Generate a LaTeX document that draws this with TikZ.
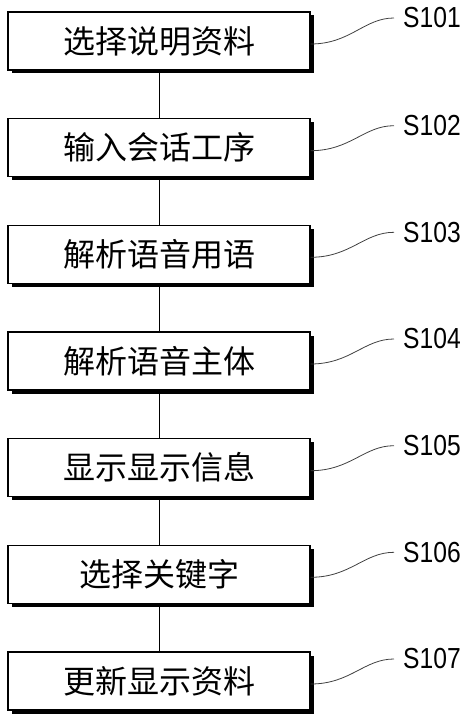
\documentclass[tikz,border=0pt]{standalone}
\usepackage{fontspec}
\setmainfont{Liberation Sans}
\newfontfamily\cjk{Noto Sans CJK SC}
\newfontfamily\labelfont[FakeStretch=0.85]{Liberation Sans}
\usetikzlibrary{shadows}
\tikzset{
  stepbox/.style={draw, line width=1.2pt, fill=white, minimum width=302pt, minimum height=58pt, inner sep=0pt,
    font=\cjk\fontsize{32}{32}\selectfont,
    drop shadow={shadow xshift=3.5pt, shadow yshift=-3.5pt, fill=black, opacity=1}},
  steplabel/.style={font=\labelfont\fontsize{29}{29}\selectfont, anchor=west, inner sep=0pt},
  leader/.style={line width=0.8pt, black!75},
  link/.style={line width=0.8pt}
}
\begin{document}
\begin{tikzpicture}[x=1pt,y=1pt]
                    \useasboundingbox (0,0) rectangle (474,-719);

                    % Drawing step boxes
                    \node [stepbox] (s101) at (159,-41.0) {选择说明资料};
                    \node [stepbox] (s102) at (159,-147.7) {输入会话工序};
                    \node [stepbox] (s103) at (159,-254.3) {解析语音用语};
                    \node [stepbox] (s104) at (159,-361.0) {解析语音主体};
                    \node [stepbox] (s105) at (159,-467.7) {显示显示信息};
                    \node [stepbox] (s106) at (159,-574.3) {选择关键字};
                    \node [stepbox] (s107) at (159,-681.0) {更新显示资料};

                    % Drawing links between boxes
                    \draw [link] (s101.south) -- (s102.north);
                    \draw [link] (s102.south) -- (s103.north);
                    \draw [link] (s103.south) -- (s104.north);
                    \draw [link] (s104.south) -- (s105.north);
                    \draw [link] (s105.south) -- (s106.north);
                    \draw [link] (s106.south) -- (s107.north);

                    % Marking step labels
                    \node [steplabel] (l101) at (403,-18.0) {S101};
                    \node [steplabel] (l102) at (403,-125.7) {S102};
                    \node [steplabel] (l103) at (403,-232.3) {S103};
                    \node [steplabel] (l104) at (403,-339.0) {S104};
                    \node [steplabel] (l105) at (403,-445.7) {S105};
                    \node [steplabel] (l106) at (403,-552.3) {S106};
                    \node [steplabel] (l107) at (403,-659.0) {S107};

                    % Drawing leaders from boxes to labels
                    \draw [leader] ([yshift=-3pt]s101.east) .. controls +(40,0) and +(-30,0) .. ([xshift=-9pt]l101.west);
                    \draw [leader] ([yshift=-3pt]s102.east) .. controls +(40,0) and +(-30,0) .. ([xshift=-9pt]l102.west);
                    \draw [leader] ([yshift=-3pt]s103.east) .. controls +(40,0) and +(-30,0) .. ([xshift=-9pt]l103.west);
                    \draw [leader] ([yshift=-3pt]s104.east) .. controls +(40,0) and +(-30,0) .. ([xshift=-9pt]l104.west);
                    \draw [leader] ([yshift=-3pt]s105.east) .. controls +(40,0) and +(-30,0) .. ([xshift=-9pt]l105.west);
                    \draw [leader] ([yshift=-3pt]s106.east) .. controls +(40,0) and +(-30,0) .. ([xshift=-9pt]l106.west);
                    \draw [leader] ([yshift=-3pt]s107.east) .. controls +(40,0) and +(-30,0) .. ([xshift=-9pt]l107.west);
                    \end{tikzpicture}
\end{document}
